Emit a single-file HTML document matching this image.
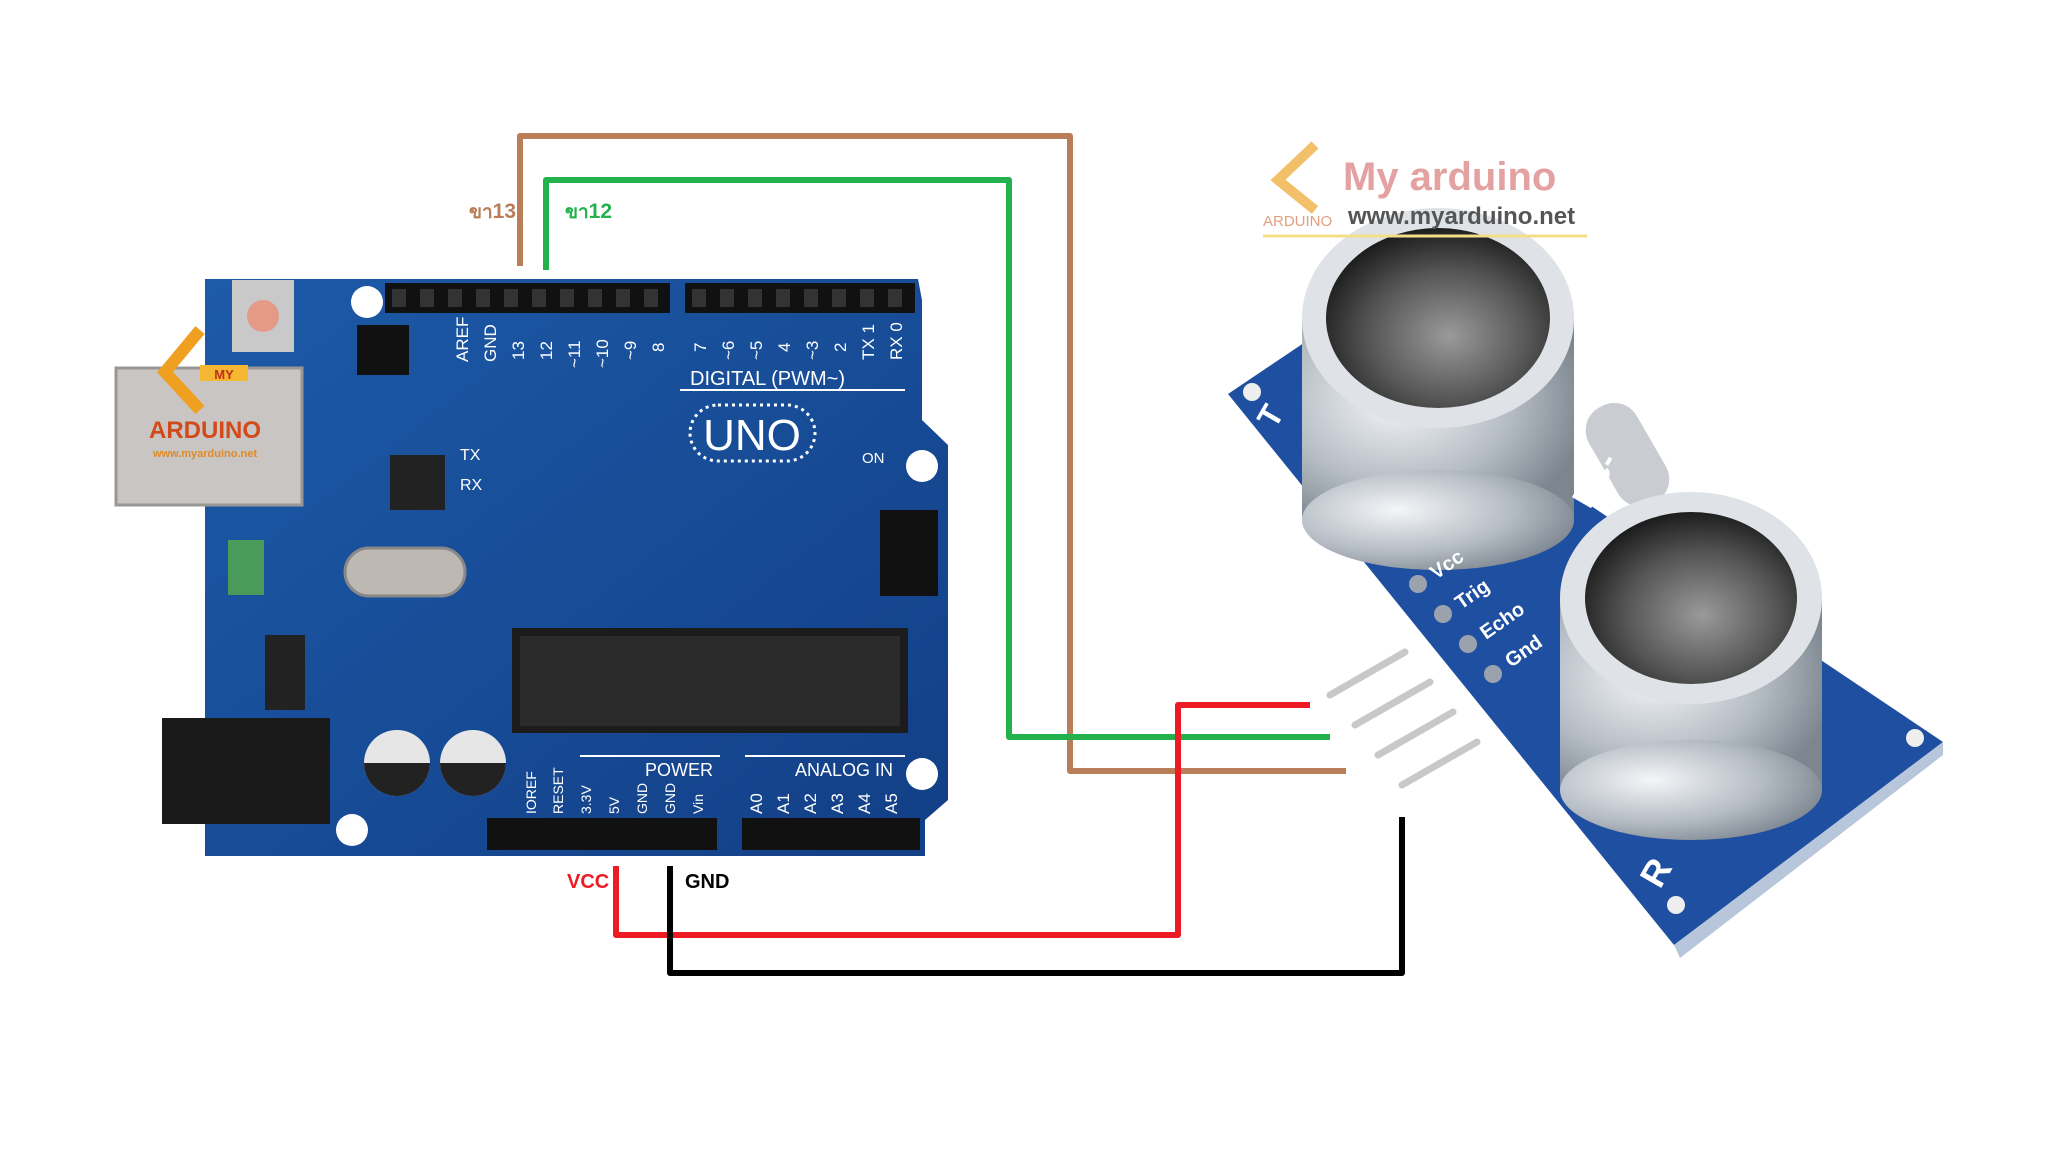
<!DOCTYPE html>
<html><head><meta charset="utf-8"><style>
html,body{margin:0;padding:0;background:#fff;}
svg{display:block;}
text{font-family:"Liberation Sans","Noto Sans CJK SC",sans-serif;}
</style></head><body>
<svg width="2048" height="1166" viewBox="0 0 2048 1166" xmlns="http://www.w3.org/2000/svg">
<defs>
<radialGradient id="cyl" cx="0.35" cy="0.4" r="0.7"><stop offset="0" stop-color="#f4f6f8"/><stop offset="0.6" stop-color="#b5bcc4"/><stop offset="1" stop-color="#7d868f"/></radialGradient>
<radialGradient id="mesh" cx="0.55" cy="0.6" r="0.6"><stop offset="0" stop-color="#9a9a9a"/><stop offset="0.6" stop-color="#555"/><stop offset="1" stop-color="#1e1e1e"/></radialGradient>
<linearGradient id="pcb" x1="0" y1="0" x2="1" y2="1"><stop offset="0" stop-color="#1d5aa8"/><stop offset="1" stop-color="#123f86"/></linearGradient>
</defs>

<path d="M205 279 L918 279 L922 300 L922 420 L948 445 L948 800 L925 820 L925 856 L205 856 Z" fill="url(#pcb)"/>
<rect x="385" y="283" width="285" height="30" fill="#111"/>
<rect x="685" y="283" width="230" height="30" fill="#111"/>
<g fill="#333">
<rect x="392" y="289" width="14" height="18"/><rect x="420" y="289" width="14" height="18"/><rect x="448" y="289" width="14" height="18"/><rect x="476" y="289" width="14" height="18"/><rect x="504" y="289" width="14" height="18"/><rect x="532" y="289" width="14" height="18"/><rect x="560" y="289" width="14" height="18"/><rect x="588" y="289" width="14" height="18"/><rect x="616" y="289" width="14" height="18"/><rect x="644" y="289" width="14" height="18"/>
<rect x="692" y="289" width="14" height="18"/><rect x="720" y="289" width="14" height="18"/><rect x="748" y="289" width="14" height="18"/><rect x="776" y="289" width="14" height="18"/><rect x="804" y="289" width="14" height="18"/><rect x="832" y="289" width="14" height="18"/><rect x="860" y="289" width="14" height="18"/><rect x="888" y="289" width="14" height="18"/>
</g>
<g fill="#fff" font-size="17">
<text transform="translate(468 362) rotate(-90)">AREF</text>
<text transform="translate(496 362) rotate(-90)">GND</text>
<text transform="translate(524 360) rotate(-90)">13</text>
<text transform="translate(552 360) rotate(-90)">12</text>
<text transform="translate(580 368) rotate(-90)">~11</text>
<text transform="translate(608 368) rotate(-90)">~10</text>
<text transform="translate(636 360) rotate(-90)">~9</text>
<text transform="translate(664 352) rotate(-90)">8</text>
<text transform="translate(706 352) rotate(-90)">7</text>
<text transform="translate(734 360) rotate(-90)">~6</text>
<text transform="translate(762 360) rotate(-90)">~5</text>
<text transform="translate(790 352) rotate(-90)">4</text>
<text transform="translate(818 360) rotate(-90)">~3</text>
<text transform="translate(846 352) rotate(-90)">2</text>
<text transform="translate(874 360) rotate(-90)">TX 1</text>
<text transform="translate(902 360) rotate(-90)">RX 0</text>
</g>
<g fill="#fff" font-size="14">
<text transform="translate(536 814) rotate(-90)">IOREF</text>
<text transform="translate(563 814) rotate(-90)">RESET</text>
<text transform="translate(591 814) rotate(-90)">3.3V</text>
<text transform="translate(619 814) rotate(-90)">5V</text>
<text transform="translate(647 814) rotate(-90)">GND</text>
<text transform="translate(675 814) rotate(-90)">GND</text>
<text transform="translate(703 814) rotate(-90)">Vin</text>
</g>
<g fill="#fff" font-size="17">
<text transform="translate(762 814) rotate(-90)">A0</text>
<text transform="translate(789 814) rotate(-90)">A1</text>
<text transform="translate(816 814) rotate(-90)">A2</text>
<text transform="translate(843 814) rotate(-90)">A3</text>
<text transform="translate(870 814) rotate(-90)">A4</text>
<text transform="translate(897 814) rotate(-90)">A5</text>
</g>
<rect x="487" y="818" width="230" height="32" fill="#111"/>
<rect x="742" y="818" width="178" height="32" fill="#111"/>
<rect x="232" y="280" width="62" height="72" fill="#c9c9c9"/><circle cx="263" cy="316" r="16" fill="#e49a86"/>
<rect x="357" y="325" width="52" height="50" fill="#111"/>
<rect x="880" y="510" width="58" height="86" fill="#111"/>
<rect x="116" y="368" width="186" height="137" fill="#c8c5c2"/>
<rect x="116" y="368" width="186" height="137" fill="none" stroke="#9a9896" stroke-width="3"/>
<text x="205" y="438" font-size="24" font-weight="bold" fill="#d24a1a" text-anchor="middle">ARDUINO</text>
<text x="205" y="457" font-size="11" font-weight="bold" fill="#e08a2a" text-anchor="middle">www.myarduino.net</text>
<path d="M200 330 L165 372 L200 410" fill="none" stroke="#f0a020" stroke-width="12"/>
<rect x="200" y="365" width="48" height="16" fill="#f5b731"/><text x="224" y="379" font-size="13" font-weight="bold" fill="#c0301a" text-anchor="middle">MY</text>
<rect x="390" y="455" width="55" height="55" fill="#222"/>
<rect x="345" y="548" width="120" height="48" rx="24" fill="#bdb8b2" stroke="#888" stroke-width="3"/>
<rect x="228" y="540" width="36" height="55" fill="#4a9a5a"/>
<rect x="265" y="635" width="40" height="75" fill="#222"/>
<rect x="162" y="718" width="168" height="106" fill="#1a1a1a"/>
<circle cx="397" cy="763" r="33" fill="#e6e6e6"/><path d="M364 763 A33 33 0 0 0 430 763 Z" fill="#222"/>
<circle cx="473" cy="763" r="33" fill="#e6e6e6"/><path d="M440 763 A33 33 0 0 0 506 763 Z" fill="#222"/>
<rect x="512" y="628" width="396" height="105" fill="#1c1c1c"/>
<rect x="520" y="636" width="380" height="90" fill="#2b2b2b"/>
<circle cx="367" cy="302" r="16" fill="#fff"/><circle cx="922" cy="466" r="16" fill="#fff"/><circle cx="922" cy="774" r="16" fill="#fff"/><circle cx="352" cy="830" r="16" fill="#fff"/>
<rect x="690" y="405" width="125" height="56" rx="28" fill="none" stroke="#fff" stroke-width="3" stroke-dasharray="3 4"/>
<text x="752" y="450" font-size="44" fill="#fff" text-anchor="middle">UNO</text>
<text x="690" y="385" font-size="20" fill="#fff" font-family="Liberation Serif">DIGITAL (PWM~)</text>
<line x1="680" y1="390" x2="905" y2="390" stroke="#fff" stroke-width="2"/>
<text x="645" y="776" font-size="18" fill="#fff" font-family="Liberation Serif">POWER</text>
<text x="795" y="776" font-size="18" fill="#fff" font-family="Liberation Serif">ANALOG IN</text>
<line x1="580" y1="756" x2="720" y2="756" stroke="#fff" stroke-width="2"/>
<line x1="745" y1="756" x2="905" y2="756" stroke="#fff" stroke-width="2"/>
<text x="862" y="463" font-size="15" fill="#fff">ON</text>
<text x="460" y="460" font-size="16" fill="#fff">TX</text>
<text x="460" y="490" font-size="16" fill="#fff">RX</text>

<polygon points="1228,394 1326,328 1943,742 1674,945" fill="#1f4fa0"/>
<polygon points="1674,945 1943,742 1943,755 1680,958" fill="#b8c6dc"/>
<circle cx="1252" cy="392" r="9" fill="#eee"/><circle cx="1915" cy="738" r="9" fill="#eee"/><circle cx="1676" cy="905" r="9" fill="#eee"/>
<rect x="1600" y="400" width="55" height="110" rx="26" fill="#c9cdd2" transform="rotate(-30 1627 455)"/>
<rect x="1302" y="320" width="272" height="200" fill="url(#cyl)"/>
<ellipse cx="1438" cy="520" rx="136" ry="50" fill="url(#cyl)"/>
<ellipse cx="1438" cy="318" rx="136" ry="110" fill="#dfe3e7"/>
<ellipse cx="1438" cy="318" rx="112" ry="90" fill="url(#mesh)"/>
<rect x="1560" y="600" width="262" height="190" fill="url(#cyl)"/>
<ellipse cx="1691" cy="790" rx="131" ry="50" fill="url(#cyl)"/>
<ellipse cx="1691" cy="598" rx="131" ry="106" fill="#dfe3e7"/>
<ellipse cx="1691" cy="598" rx="106" ry="86" fill="url(#mesh)"/>
<g stroke="#c8c8c8" stroke-width="7" stroke-linecap="round">
<line x1="1330" y1="695" x2="1405" y2="652"/>
<line x1="1355" y1="725" x2="1430" y2="682"/>
<line x1="1378" y1="755" x2="1453" y2="712"/>
<line x1="1402" y1="785" x2="1477" y2="742"/>
</g>
<g fill="#9aa3ad"><circle cx="1418" cy="584" r="9"/><circle cx="1443" cy="614" r="9"/><circle cx="1468" cy="644" r="9"/><circle cx="1493" cy="674" r="9"/></g>
<g fill="#fff" font-size="20" font-weight="bold">
<text transform="translate(1436 580) rotate(-35)">Vcc</text>
<text transform="translate(1461 610) rotate(-35)">Trig</text>
<text transform="translate(1486 640) rotate(-35)">Echo</text>
<text transform="translate(1511 668) rotate(-35)">Gnd</text>
<text transform="translate(1275 430) rotate(-60)" font-size="32">T</text>
<text transform="translate(1660 890) rotate(-60)" font-size="36">R</text>
<text transform="translate(1590 510) rotate(-60)" font-size="32">HC-</text>
</g>

<text x="1343" y="190" font-size="40" font-weight="bold" fill="#e3a1a1">My arduino</text>
<text x="1348" y="224" font-size="24" font-weight="bold" fill="#555">www.myarduino.net</text>
<text x="1263" y="226" font-size="15" fill="#e0a080">ARDUINO</text>
<line x1="1263" y1="236" x2="1587" y2="236" stroke="#f3de8a" stroke-width="3"/>
<path d="M1315 145 L1278 180 L1315 210" fill="none" stroke="#f3c06a" stroke-width="10"/>

<g fill="none" stroke-linejoin="round" stroke-width="6">
<path d="M520 266 L520 136 L1070 136 L1070 771 L1346 771" stroke="#b97d58"/>
<path d="M546 270 L546 180 L1009 180 L1009 737 L1330 737" stroke="#22b14c"/>
<path d="M616 866 L616 935 L1178 935 L1178 705 L1310 705" stroke="#ed1c24"/>
<path d="M670 866 L670 973 L1402 973 L1402 817" stroke="#000"/>
</g>
<text x="469" y="218" font-size="19" font-weight="bold" fill="#b97d58">ขา<tspan font-size="21">13</tspan></text>
<text x="565" y="218" font-size="19" font-weight="bold" fill="#22b14c">ขา<tspan font-size="21">12</tspan></text>
<text x="567" y="888" font-size="20" font-weight="bold" fill="#ed1c24">VCC</text>
<text x="685" y="888" font-size="20" font-weight="bold" fill="#000">GND</text>
</svg>
</body></html>
